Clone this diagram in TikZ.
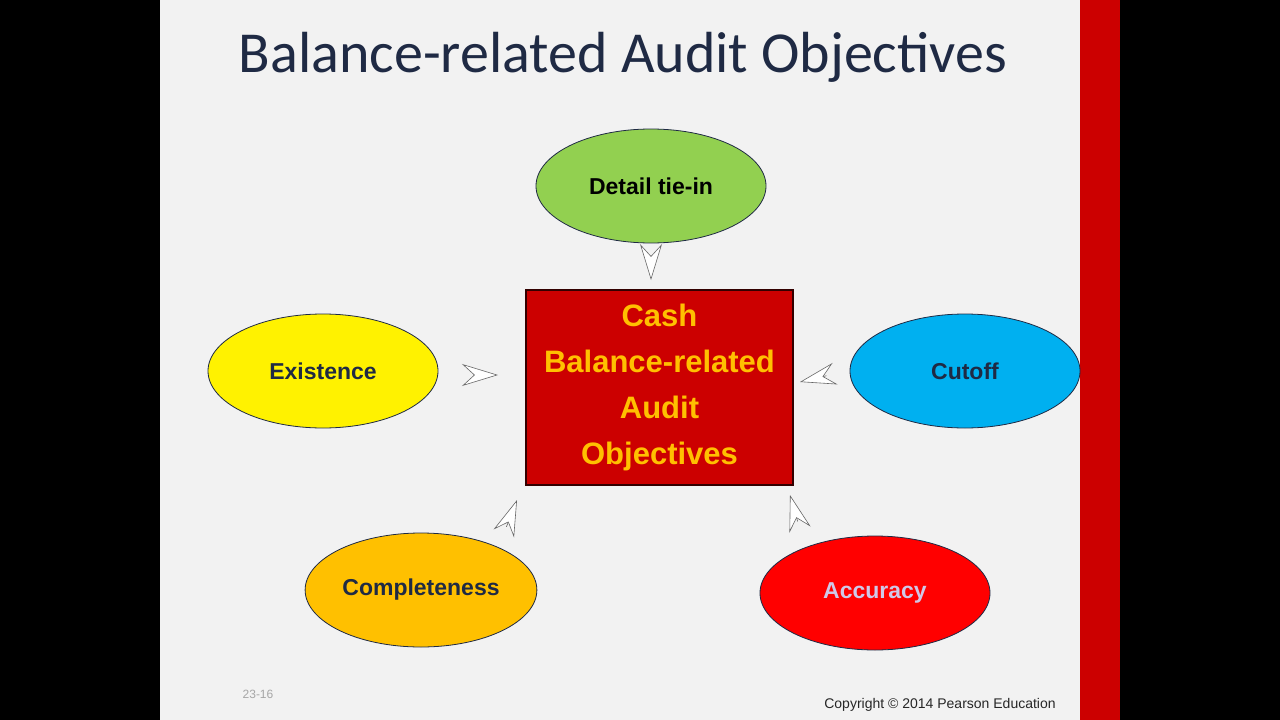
\documentclass[tikz,border=0pt]{standalone}
\usepackage{fontspec}
\setmainfont{Liberation Sans}
\newfontfamily\titlefont{Carlito}
\usetikzlibrary{arrows.meta,shapes.geometric}
\definecolor{slidebg}{HTML}{F2F2F2}
\definecolor{navy}{HTML}{1F2A44}
\definecolor{gr}{HTML}{92D050}
\definecolor{cy}{HTML}{00B0F0}
\definecolor{og}{HTML}{FFC000}
\definecolor{bx}{HTML}{CC0000}
\definecolor{lav}{HTML}{D0C8E8}
\tikzset{
  oval/.style={ellipse, draw=navy, line width=0.8pt, minimum width=230pt, minimum height=114pt, font=\bfseries\fontsize{23}{26}\selectfont, text=navy},
  tipar/.style={line width=0.6pt, draw=black!60, shorten <=12pt, -{Stealth[length=36pt,width=22pt,inset=12pt,fill=white]}}
}
\begin{document}
\begin{tikzpicture}[x=1pt,y=-1pt]
\fill[black] (0,0) rectangle (1280,720);
\fill[slidebg] (160,0) rectangle (1080,720);
\fill[red!80!black] (1080,0) rectangle (1120,720);
\useasboundingbox (0,0) rectangle (1280,720);
\node[font=\titlefont\fontsize{58}{64}\selectfont, text=navy] (title) at (623,57) {Balance-related Audit Objectives};
\node[draw=black!80!red, line width=1.2pt, fill=bx, minimum width=267pt, minimum height=195pt, text=og, align=center, font=\bfseries\fontsize{31}{46}\selectfont] (box) at (659.5,387.5) {Cash\\Balance-related\\Audit\\Objectives};
\node[oval, fill=gr, text=black] (det) at (651,186) {Detail tie-in};
\node[oval, fill=yellow] (ex) at (323,371) {Existence};
\node[oval, fill=cy] (cut) at (965,371) {Cutoff};
\node[oval, fill=og] (comp) at (421,590) {Completeness};
\node[oval, fill=red, text=lav] (acc) at (875,593) {Accuracy};
\coordinate (t1a) at (651,244); \coordinate (t1b) at (651,280);
\coordinate (t2a) at (462,375); \coordinate (t2b) at (498,375);
\coordinate (t3a) at (838,373); \coordinate (t3b) at (800,382);
\coordinate (t4a) at (502,538); \coordinate (t4b) at (517,500);
\coordinate (t5a) at (801,533); \coordinate (t5b) at (790,495);
\draw[tipar] (t1a) -- (t1b);
\draw[tipar] (t2a) -- (t2b);
\draw[tipar] (t3a) -- (t3b);
\draw[tipar] (t4a) -- (t4b);
\draw[tipar] (t5a) -- (t5b);
\node[text=gray!70, font=\fontsize{12}{14}\selectfont] (pg) at (258,694) {23-16};
\node[font=\fontsize{14}{16}\selectfont, text=black!85] (copy) at (940,705) {Copyright © 2014 Pearson Education};
\end{tikzpicture}
\end{document}
